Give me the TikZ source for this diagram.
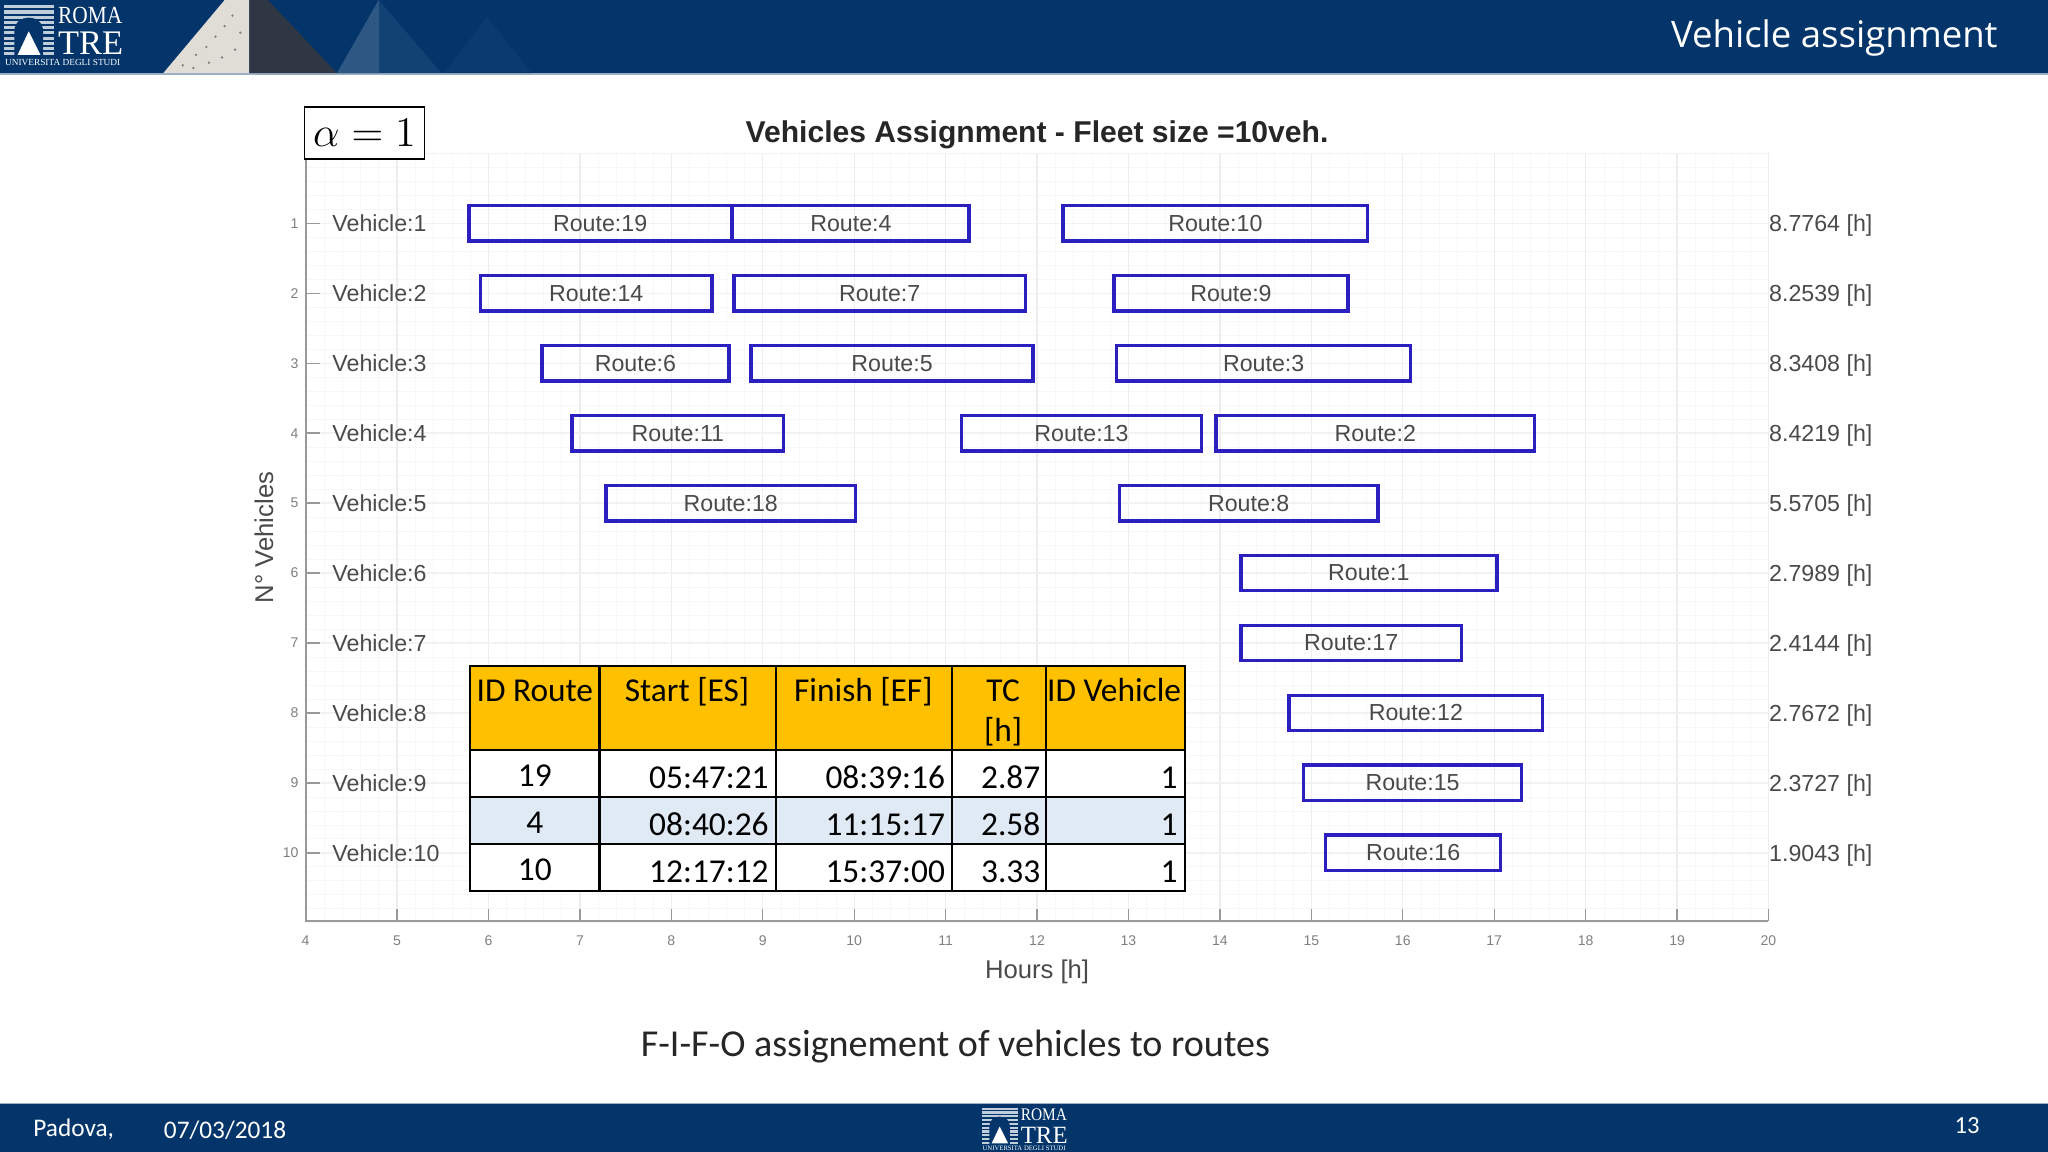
\documentclass[tikz,border=0pt]{standalone}
\usepackage[no-math]{fontspec}
\setmainfont{Carlito}
\newfontfamily\plotfont{Liberation Sans}
\newfontfamily\headfont{Open Sans}
\newfontfamily\logofont{Liberation Serif}
\usepackage{tikz}
\definecolor{bandblue}{HTML}{03356B}
\definecolor{routeblue}{HTML}{2B1FBF}
\definecolor{headorange}{HTML}{FFC000}
\definecolor{rowblue}{HTML}{E0EAF5}
\definecolor{plottext}{HTML}{4A4A4A}
\definecolor{stonelight}{HTML}{E0DCD6}
\definecolor{stonedark}{HTML}{2F3745}
\tikzset{
  x=0.013061cm,y=-0.013061cm,
  routebox/.style={draw=routeblue,line width=1pt,inner sep=0pt,minimum height=0.353cm,
    text=plottext,font=\plotfont\fontsize{6.6}{8}\selectfont},
  plotlabel/.style={text=plottext,inner sep=0pt,font=\plotfont\fontsize{6.6}{8}\selectfont},
  axislabel/.style={text=plottext,inner sep=0pt,font=\plotfont\fontsize{7.3}{9}\selectfont},
  ticklabel/.style={text=gray,inner sep=0pt,font=\plotfont\fontsize{4}{5}\selectfont},
  cell/.style={inner sep=0pt,text=black,font=\fontsize{9.5}{11}\selectfont},
  bandtext/.style={inner sep=0pt,text=white},
  romalogo/.pic={
    \foreach \ya in {4,8,...,40} \fill[white!75!bandblue] (3.4,\ya) rectangle (41,\ya+2.4);
    \fill[bandblue] (11,43) -- (11,24) .. controls (11,10) and (33,10) .. (33,24) -- (33,43) -- cycle;
    \fill[white] (22,24) -- (31,42) -- (13.5,42) -- cycle;
    \node[bandtext,font=\logofont\fontsize{7}{8}\selectfont,anchor=base west,xscale=0.87,transform shape] (romaword) at (44,18) {ROMA};
    \node[bandtext,font=\logofont\fontsize{9.8}{11}\selectfont,anchor=base west,transform shape] (treword) at (44,42) {TRE};
    \node[bandtext,font=\logofont\fontsize{2.65}{3}\selectfont,anchor=base west,transform shape] (uniword) at (3.4,50) {UNIVERSITA DEGLI STUDI};
  }
}

\begin{document}
\begin{tikzpicture}
\useasboundingbox (0,0) rectangle (1568,882);
\fill[white] (0,0) rectangle (1568,882);

\fill[bandblue] (0,0) rectangle (1568,56.5);
\draw[white!60!bandblue,thin] (0,56.8) -- (1568,56.8);
\fill[white!6!bandblue] (258,56) -- (290,0) -- (338,56) -- cycle;
\fill[white!3!bandblue] (340,56) -- (373,13) -- (407,56) -- cycle;
\fill[white!17!bandblue] (258,56) -- (290,0) -- (290,56) -- cycle;
\fill[stonelight] (125,56) -- (172,0) -- (191,0) -- (191,56) -- cycle;
\fill[stonedark] (191,0) -- (205,0) -- (258,56) -- (191,56) -- cycle;
\foreach \xa/\ya in {140/50,150/42,158/36,165/28,172/20,178/12,160/48,170/44,180/38,184/25,148/52}
  \fill[gray] (\xa,\ya) circle (1);
\pic at (0,0) {romalogo};
\node[bandtext,anchor=east,font=\headfont\fontsize{10.4}{12}\selectfont] (slidetitle) at (1530,29) {Vehicle assignment};

\fill[bandblue] (0,845) rectangle (1568,882);
\draw[white!60!bandblue,thin] (0,844.8) -- (1568,844.8);
\node[bandtext,anchor=west,font=\fontsize{7.2}{8}\selectfont] (place) at (25,865) {Padova,};
\node[bandtext,anchor=west,font=\fontsize{7.2}{8}\selectfont] (slidedate) at (125,865) {07/03/2018};
\node[bandtext,font=\fontsize{7}{8}\selectfont] (pagenum) at (1506,862) {13};
\begin{scope}[shift={(749.5,845.2)},scale=0.72,transform shape]
\pic at (0,0) {romalogo};
\end{scope}

\foreach \h in {0,...,80}
  \draw[black!3,very thin] ({234+14*\h},117) -- ({234+14*\h},705);
\foreach \h in {0,...,55}
  \draw[black!3,very thin] (234,{117.45+10.71*\h}) -- (1354,{117.45+10.71*\h});
\foreach \h in {0,...,16}
  \draw[black!7,thin] ({234+70*\h},117) -- ({234+70*\h},705);
\foreach \r in {0,...,10}
  \draw[black!5,thin] (234,{117.45+53.55*\r}) -- (1354,{117.45+53.55*\r});

\draw[black!40,line width=0.5pt] (234,122) -- (234,705) -- (1354,705);
\foreach \h [count=\i from 0] in {4,...,20} {
  \draw[black!40,thin] ({234+70*\i},705) -- ({234+70*\i},696);
  \node[ticklabel] (hour\h) at ({234+70*\i},720) {\h};
}

\node[inner sep=0pt,text=black!85,font=\plotfont\bfseries\fontsize{8.56}{10}\selectfont] (plottitle) at (794,103) {Vehicles Assignment - Fleet size =10veh.};
\node[axislabel] (hourslabel) at (794,744) {Hours [h]};
\node[axislabel,rotate=90] (vehlabel) at (202,411.5) {N\textdegree{} Vehicles};

\foreach \r/\tot in {1/8.7764,2/8.2539,3/8.3408,4/8.4219,5/5.5705,6/2.7989,7/2.4144,8/2.7672,9/2.3727,10/1.9043} {
  \draw[black!40,thin] (234,{171+53.55*(\r-1)}) -- (245,{171+53.55*(\r-1)});
  \node[ticklabel,anchor=east] (rownum\r) at (229,{171+53.55*(\r-1)}) {\r};
  \node[plotlabel,anchor=west] (veh\r) at (254,{171+53.55*(\r-1)}) {Vehicle:\r};
  \node[plotlabel,anchor=west] (tot\r) at (1354,{173+53.55*(\r-1)}) {\tot{} [h]};
}

\foreach \name/\xa/\xb/\row in {19/359/560/1,4/561/742/1,10/814/1047/1,
    14/368/545/2,7/562/785/2,9/853/1032/2,
    6/415/558/3,5/575/791/3,3/855/1080/3,
    11/438/600/4,13/736/920/4,2/931/1175/4,
    18/464/655/5,8/857/1055/5,
    1/950/1146/6,17/950/1119/7,12/987/1181/8,15/998/1165/9,16/1015/1149/10}
  \node[routebox,minimum width={(\xb-\xa)*0.013061cm}] (r\name) at ({(\xa+\xb)/2},{171+53.55*(\row-1)}) {Route:\name};

\node[draw=black,fill=white,line width=0.5pt,inner sep=0pt,minimum width=1.2cm,minimum height=0.522cm,
  font=\fontsize{11.7}{14}\selectfont] (alphabox) at (279,102) {$\alpha=1$};

\fill[white] (360,574) rectangle (907,682);
\fill[headorange] (360,510) rectangle (907,574);
\fill[rowblue] (360,610.5) rectangle (907,646.5);
\draw[black,line width=0.6pt] (360,510) rectangle (907,682);
\foreach \cx in {459,594,729,801}
  \draw[black,line width=0.6pt] (\cx,510) -- (\cx,682);
\foreach \cy in {574,610.5,646.5}
  \draw[black,line width=0.6pt] (360,\cy) -- (907,\cy);

\node[cell,anchor=base] (hroute) at (409.5,537) {ID Route};
\node[cell,anchor=base] (hstart) at (526,537) {Start [ES]};
\node[cell,anchor=base] (hfinish) at (661,537) {Finish [EF]};
\node[cell,anchor=base] (htc) at (768,537) {TC};
\node[cell,anchor=base] (hunit) at (768,568) {[h]};
\node[cell,anchor=base] (hveh) at (853,537) {ID Vehicle};

\foreach \n/\id/\ts/\tf/\tc/\yid/\yt in {a/19/05:47:21/08:39:16/2.87/602/604,
    b/4/08:40:26/11:15:17/2.58/638/640,
    c/10/12:17:12/15:37:00/3.33/674/676} {
  \node[cell,anchor=base] (id\n) at (409.5,\yid) {\id};
  \node[cell,anchor=base east] (es\n) at (589,\yt) {\ts};
  \node[cell,anchor=base east] (ef\n) at (724,\yt) {\tf};
  \node[cell,anchor=base east] (tc\n) at (797,\yt) {\tc};
  \node[cell,anchor=base east] (vh\n) at (902,\yt) {1};
}

\node[inner sep=0pt,font=\fontsize{10.83}{13}\selectfont,text=black!85] (caption) at (731.5,801) {F-I-F-O assignement of vehicles to routes};
\end{tikzpicture}
\end{document}
